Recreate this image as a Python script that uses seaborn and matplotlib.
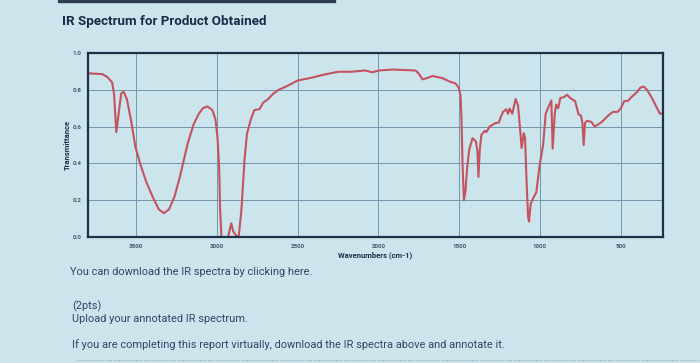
import matplotlib
matplotlib.use("Agg")
import matplotlib.pyplot as plt
import seaborn as sns
import pandas as pd

wavenumbers = [3795, 3708, 3677, 3647, 3635, 3621, 3591, 3576, 3556, 3529, 3503, 3474, 3436, 3397,
               3358, 3327, 3295, 3261, 3227, 3179, 3144, 3111, 3085, 3058, 3027, 3008, 2995, 2985,
               2979, 2971, 2930, 2910, 2898, 2873, 2863, 2847, 2828, 2813, 2789, 2767, 2735, 2713,
               2682, 2649, 2617, 2565, 2501, 2417, 2333, 2250, 2166, 2083, 2037, 1996, 1914, 1770,
               1749, 1728, 1697, 1667, 1605, 1554, 1523, 1502, 1492, 1486, 1480, 1471, 1461, 1451,
               1438, 1418, 1397, 1387, 1381, 1373, 1363, 1342, 1332, 1312, 1281, 1254, 1246, 1229,
               1209, 1198, 1188, 1172, 1151, 1136, 1122, 1114, 1101, 1093, 1085, 1074, 1068, 1058,
               1044, 1023, 1002, 981, 965, 944, 930, 922, 909, 900, 888, 874, 853, 833, 813, 783,
               762, 747, 738, 730, 722, 708, 682, 662, 621, 581, 550, 520, 500, 480, 456, 429, 399,
               379, 359, 338, 308, 278, 258, 240]
transmittance = [0.89, 0.885, 0.87, 0.84, 0.776, 0.57, 0.78, 0.79, 0.75, 0.63, 0.49, 0.40, 0.30, 0.22,
                 0.15, 0.13, 0.15, 0.22, 0.33, 0.51, 0.61, 0.67, 0.70, 0.71, 0.69, 0.64, 0.54, 0.38,
                 0.15, 0.0, 0.0, 0.075, 0.03, 0.0, 0.01, 0.15, 0.42, 0.56, 0.64, 0.69, 0.695, 0.73,
                 0.75, 0.78, 0.80, 0.82, 0.85, 0.865, 0.883, 0.898, 0.898, 0.905, 0.895, 0.905, 0.91, 0.905,
                 0.887, 0.857, 0.864, 0.875, 0.864, 0.843, 0.835, 0.81, 0.77, 0.644, 0.413, 0.20, 0.253, 0.377,
                 0.475, 0.537, 0.52, 0.466, 0.327, 0.47, 0.555, 0.577, 0.57, 0.60, 0.617, 0.623, 0.645, 0.68,
                 0.694, 0.67, 0.698, 0.67, 0.75, 0.715, 0.573, 0.484, 0.564, 0.54, 0.342, 0.11, 0.084, 0.18,
                 0.208, 0.244, 0.395, 0.50, 0.67, 0.715, 0.742, 0.48, 0.67, 0.72, 0.70, 0.756, 0.76, 0.773, 0.755, 0.738,
                 0.667, 0.66, 0.62, 0.50, 0.62, 0.632, 0.625, 0.60, 0.623, 0.658, 0.68, 0.68, 0.70, 0.738, 0.74, 0.765, 0.788,
                 0.812, 0.818, 0.80, 0.756, 0.703, 0.67, 0.672]
x_ticks = [3500, 3000, 2500, 2000, 1500, 1000, 500]
y_ticks = [0.0, 0.2, 0.4, 0.6, 0.8, 1.0]

bg = "#cce4ec"
navy = "#1d3149"
sns.set_theme(style="white")
plt.rcParams['font.family'] = ['Roboto', 'DejaVu Sans']

df = pd.DataFrame({"wn": wavenumbers, "T": transmittance})

fig = plt.figure(figsize=(7.0, 3.63), dpi=100, facecolor=bg)
ax = fig.add_axes([0.126, 0.347, 0.821, 0.507])
ax.set_facecolor(bg)
sns.lineplot(data=df, x="wn", y="T", ax=ax, color="#c4535f", linewidth=1.5)
ax.set_xlim(3795, 240)
ax.set_ylim(0, 1.0)
ax.set_xticks(x_ticks)
ax.set_xticklabels([str(t) for t in x_ticks])
ax.set_yticks(y_ticks)
ax.set_yticklabels([f"{t:.1f}" for t in y_ticks])
ax.grid(True, color="#7397aa", linewidth=0.7)
for s in ax.spines.values():
    s.set_color(navy)
    s.set_linewidth(1.6)
ax.tick_params(length=0, labelsize=4.5, colors="#4a5a6e", pad=5)
for lab in ax.get_xticklabels() + ax.get_yticklabels():
    lab.set_fontweight("bold")
ax.set_xlabel("Wavenumbers (cm-1)", fontsize=5.5, fontweight="bold", color=navy, labelpad=2)
ax.set_ylabel("Transmittance", fontsize=5.5, fontweight="bold", color=navy, labelpad=1)

fig.text(0.089, 0.94, "IR Spectrum for Product Obtained", fontsize=9.6, fontweight="bold",
         color="#1c2a48", ha="left", va="center")
fig.patches.append(plt.Rectangle((0.083, 0.995), 0.395, 0.006, transform=fig.transFigure,
                                 color="#2c3e50", zorder=0))
txt_col = "#34456a"
fig.text(0.1, 0.25, "You can download the IR spectra by clicking here.", fontsize=7.9,
         color=txt_col, ha="left", va="center")
fig.text(0.103, 0.157, "(2pts)", fontsize=7.9, color=txt_col, ha="left", va="center")
fig.text(0.103, 0.121, "Upload your annotated IR spectrum.", fontsize=7.9, color=txt_col,
         ha="left", va="center")
fig.text(0.103, 0.052, "If you are completing this report virtually, download the IR spectra above and annotate it.",
         fontsize=7.9, color=txt_col, ha="left", va="center")
fig.lines.append(plt.Line2D([0.11, 1.0], [0.008, 0.008], transform=fig.transFigure,
                            color="#8aa4b4", linewidth=0.8, linestyle=(0, (1, 1.5))))

fig.savefig("out.png", dpi=100, facecolor=bg)
